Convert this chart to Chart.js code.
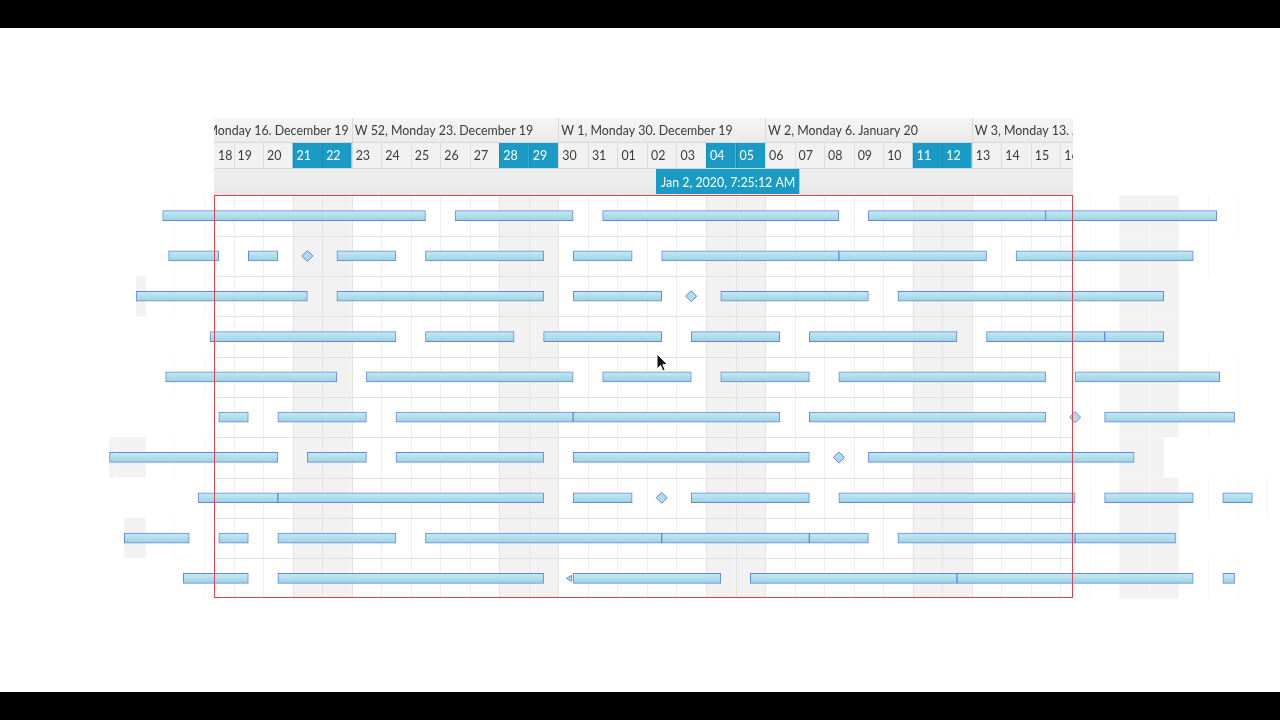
<!DOCTYPE html>
<html>
<head>
<meta charset="utf-8">
<script src="https://cdn.jsdelivr.net/npm/chart.js@4.4.1/dist/chart.umd.min.js"></script>
<style>
html, body { margin: 0; padding: 0; background: #fff; }
#wrap { position: relative; width: 1280px; height: 720px; overflow: hidden; background: #fff; }
#c { position: absolute; left: 0; top: 0; }
.band { position: absolute; left: 0; width: 1280px; height: 28px; background: #000; }
</style>
</head>
<body>
<div id="wrap">
  <canvas id="c" width="1280" height="720"></canvas>
  <div class="band" style="top:0"></div>
  <div class="band" style="top:692px"></div>
</div>
<script>
// days: Dec N = N, Jan N = 31 + N
const rows = ['R1', 'R2', 'R3', 'R4', 'R5', 'R6', 'R7', 'R8', 'R9', 'R10'];

const row1 = [[16.6, 25.5], [26.5, 30.5], [31.5, 39.5], [40.5, 46.5], [46.5, 52.3]];
const row2 = [[16.8, 18.5], [19.5, 20.5], [22.5, 24.5], [25.5, 29.5], [30.5, 32.5], [33.5, 39.5], [39.5, 44.5], [45.5, 51.5]];
const row3 = [[15.7, 21.5], [22.5, 29.5], [30.5, 33.5], [35.5, 40.5], [41.5, 50.5]];
const row4 = [[18.2, 24.5], [25.5, 28.5], [29.5, 33.5], [34.5, 37.5], [38.5, 43.5], [44.5, 48.5], [48.5, 50.5]];
const row5 = [[16.7, 22.5], [23.5, 30.5], [31.5, 34.5], [35.5, 38.5], [39.5, 46.5], [47.5, 52.4]];
const row6 = [[18.5, 19.5], [20.5, 23.5], [24.5, 30.5], [30.5, 37.5], [38.5, 46.5], [48.5, 52.9]];
const row7 = [[14.8, 20.5], [21.5, 23.5], [24.5, 29.5], [30.5, 38.5], [40.5, 49.5]];
const row8 = [[17.8, 20.5], [20.5, 29.5], [30.5, 32.5], [34.5, 38.5], [39.5, 47.5], [48.5, 51.5], [52.5, 53.5]];
const row9 = [[15.3, 17.5], [18.5, 19.5], [20.5, 24.5], [25.5, 33.5], [33.5, 38.5], [38.5, 40.5], [41.5, 47.5], [47.5, 50.9]];
const row10 = [[17.3, 19.5], [20.5, 29.5], [30.5, 35.5], [36.5, 43.5], [43.5, 51.5], [52.5, 52.9]];

const milestoneRows = ['R2', 'R3', 'R6', 'R7', 'R8'];
const milestoneDays = [21.5, 34.5, 47.5, 39.5, 33.5];

const weekLabels = ['W 51, Monday 16. December 19', 'W 52, Monday 23. December 19', 'W 1, Monday 30. December 19', 'W 2, Monday 6. January 20', 'W 3, Monday 13. January 20'];
const weekStarts = [16, 23, 30, 37, 44];
const firstDay = 18;
const dayLabels = ['18', '19', '20', '21', '22', '23', '24', '25', '26', '27', '28', '29', '30', '31',
  '01', '02', '03', '04', '05', '06', '07', '08', '09', '10', '11', '12', '13', '14', '15', '16'];

const viewStart = 18.34, viewEnd = 47.42;
const cursorTime = 33.309;
const cursorLabel = 'Jan 2, 2020, 7:25:12 AM';

const rowData = [row1, row2, row3, row4, row5, row6, row7, row8, row9, row10];

const barData = [];
rowData.forEach((bars, i) => bars.forEach(b => barData.push({ y: rows[i], x: b })));
const msData = milestoneDays.map((d, i) => ({ x: d, y: milestoneRows[i] }));

const isWeekend = d => ((d - 21) % 7 + 7) % 7 < 2;
const FONT = '12.4px Lato, "Open Sans", sans-serif';

const gantt = {
  id: 'gantt',
  beforeDatasetsDraw(chart) {
    const { ctx, chartArea: a, scales: { x } } = chart;
    const L = x.getPixelForValue(viewStart), R = x.getPixelForValue(viewEnd);
    const rowH = (a.bottom - a.top) / rows.length;
    ctx.save();
    // partly rendered rows outside the view
    rowData.forEach((bars, i) => {
      const s = Math.min(...bars.map(b => b[0]));
      const e = Math.max(...bars.map(b => b[1])) + 1;
      const top = a.top + i * rowH;
      for (let d = Math.floor(s); d < e; d++) {
        const x0 = x.getPixelForValue(Math.max(d, s));
        const x1 = x.getPixelForValue(Math.min(d + 1, e));
        if (isWeekend(d)) {
          ctx.fillStyle = '#f2f2f2';
          ctx.fillRect(x0, top, x1 - x0, rowH);
        }
        if (d >= s) {
          ctx.fillStyle = '#f6f6f6';
          ctx.fillRect(Math.round(x.getPixelForValue(d)), top, 1, rowH);
        }
      }
    });
    // visible area
    ctx.fillStyle = '#fff';
    ctx.fillRect(L, a.top, R - L, a.bottom - a.top);
    ctx.beginPath();
    ctx.rect(L, a.top, R - L, a.bottom - a.top);
    ctx.clip();
    for (let d = Math.floor(viewStart); d <= Math.ceil(viewEnd); d++) {
      const x0 = x.getPixelForValue(d), x1 = x.getPixelForValue(d + 1);
      if (isWeekend(d)) {
        ctx.fillStyle = '#f2f2f2';
        ctx.fillRect(x0, a.top, x1 - x0, a.bottom - a.top);
      }
      ctx.fillStyle = isWeekend(d) || isWeekend(d - 1) ? '#e4e4e4' : '#eeeeee';
      ctx.fillRect(Math.round(x0), a.top, 1, a.bottom - a.top);
    }
    ctx.fillStyle = '#e2e2e2';
    for (let k = 1; k < rows.length; k++) {
      ctx.fillRect(L, Math.round(a.top + k * rowH), R - L, 1);
    }
    ctx.restore();
  },
  afterDatasetsDraw(chart) {
    const { ctx, chartArea: a, scales: { x } } = chart;
    const L = x.getPixelForValue(viewStart), R = x.getPixelForValue(viewEnd);
    ctx.save();
    ctx.strokeStyle = '#e2404b';
    ctx.lineWidth = 1;
    ctx.strokeRect(Math.round(L) + 0.5, Math.floor(a.top) + 0.5, Math.round(R - L) - 1, Math.round(a.bottom - a.top) - 1);
    ctx.restore();
  },
  afterDraw(chart) {
    const { ctx, scales: { x } } = chart;
    const L = Math.round(x.getPixelForValue(viewStart)), R = Math.round(x.getPixelForValue(viewEnd));
    const yA = 118, yB = 142, yC = 168, yD = 195;
    ctx.save();
    ctx.beginPath();
    ctx.rect(L, yA, R - L, yD - yA);
    ctx.clip();
    ctx.font = FONT;
    ctx.textBaseline = 'middle';

    // week row
    const gA = ctx.createLinearGradient(0, yA, 0, yB);
    gA.addColorStop(0, '#f5f5f5');
    gA.addColorStop(1, '#ebebeb');
    ctx.fillStyle = gA;
    ctx.fillRect(L, yA, R - L, yB - yA);
    weekLabels.forEach((lab, i) => {
      const x0 = x.getPixelForValue(weekStarts[i]), x1 = x.getPixelForValue(weekStarts[i] + 7);
      ctx.fillStyle = '#d9d9d9';
      ctx.fillRect(Math.round(x0), yA, 1, yB - yA);
      const w = ctx.measureText(lab).width;
      let tx = x0 + 3;
      if (tx < L) tx = Math.min(L + 4, x1 - 3 - w);
      ctx.fillStyle = '#3a3a3a';
      ctx.fillText(lab, tx, (yA + yB) / 2 + 1);
    });

    // day row
    dayLabels.forEach((lab, i) => {
      const d = firstDay + i;
      const x0 = x.getPixelForValue(d), x1 = x.getPixelForValue(d + 1);
      const we = isWeekend(d);
      ctx.fillStyle = we ? '#1a9bc6' : '#f1f1f1';
      ctx.fillRect(x0, yB, x1 - x0, yC - yB);
      ctx.fillStyle = we ? '#168ab2' : '#dcdcdc';
      ctx.fillRect(Math.round(x0), yB, 1, yC - yB);
      ctx.fillStyle = we ? '#ffffff' : '#3a3a3a';
      ctx.fillText(lab, Math.max(x0 + 4, L + 4), (yB + yC) / 2 + 1);
    });

    // time row
    const gC = ctx.createLinearGradient(0, yC, 0, yD);
    gC.addColorStop(0, '#efefef');
    gC.addColorStop(1, '#e8e8e8');
    ctx.fillStyle = gC;
    ctx.fillRect(L, yC, R - L, yD - yC);
    ctx.fillStyle = '#d6d6d6';
    ctx.fillRect(L, yB, R - L, 1);
    ctx.fillRect(L, yC, R - L, 1);
    const tx = Math.round(x.getPixelForValue(cursorTime));
    const tw = ctx.measureText(cursorLabel).width;
    ctx.fillStyle = '#1a9bc6';
    ctx.fillRect(tx, yC + 1, tw + 9, yD - yC - 2);
    ctx.fillStyle = '#ffffff';
    ctx.fillText(cursorLabel, tx + 5, (yC + yD) / 2 + 1);
    ctx.restore();

    // mouse pointer
    ctx.save();
    ctx.translate(657, 354);
    ctx.beginPath();
    ctx.moveTo(0, 0);
    ctx.lineTo(0, 15);
    ctx.lineTo(3.5, 11.5);
    ctx.lineTo(6, 17);
    ctx.lineTo(8.2, 16);
    ctx.lineTo(5.8, 10.6);
    ctx.lineTo(10.6, 10.6);
    ctx.closePath();
    ctx.fillStyle = '#111';
    ctx.strokeStyle = '#fff';
    ctx.lineWidth = 1;
    ctx.fill();
    ctx.stroke();
    ctx.restore();
  }
};

const barFill = (c) => {
  const sy = c.chart.scales && c.chart.scales.y;
  if (!c.parsed || !sy) return '#abdcea';
  const yp = sy.getPixelForValue(c.parsed.y);
  if (!Number.isFinite(yp)) return '#abdcea';
  const g = c.chart.ctx.createLinearGradient(0, yp - 5, 0, yp + 5);
  g.addColorStop(0, '#c6eaf3');
  g.addColorStop(0.5, '#afdfeb');
  g.addColorStop(1, '#9ad3e3');
  return g;
};

new Chart(document.getElementById('c'), {
  data: {
    labels: rows,
    datasets: [
      {
        type: 'scatter',
        data: msData,
        pointStyle: 'rectRot',
        pointRadius: 5.5,
        backgroundColor: '#aedcea',
        borderColor: '#6a84de',
        borderWidth: 1
      },
      {
        type: 'scatter',
        data: [{ x: 30.39, y: 'R10' }],
        pointStyle: 'triangle',
        rotation: -90,
        pointRadius: 3.5,
        backgroundColor: '#aedcea',
        borderColor: '#6a84de',
        borderWidth: 1
      },
      {
        type: 'bar',
        data: barData,
        barThickness: 10,
        grouped: false,
        borderWidth: 1,
        borderSkipped: false,
        borderColor: '#6a84de',
        backgroundColor: barFill
      }
    ]
  },
  options: {
    indexAxis: 'y',
    responsive: false,
    animation: false,
    events: [],
    layout: { padding: { left: 80, right: 10, top: 195.5, bottom: 121.5 } },
    plugins: { legend: { display: false }, tooltip: { enabled: false } },
    scales: {
      x: { type: 'linear', min: 13.8, max: 54.1, display: false },
      y: { type: 'category', labels: rows, offset: true, display: false }
    }
  },
  plugins: [gantt]
});
</script>
</body>
</html>
